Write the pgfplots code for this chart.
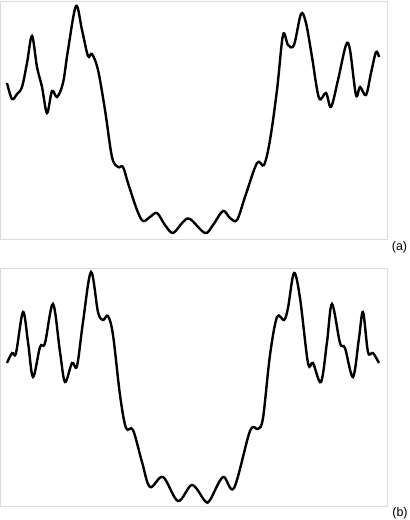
\documentclass[border=0pt]{standalone}
\usepackage{pgfplots}
\pgfplotsset{compat=1.18}
\usepackage{fontspec}
\setmainfont{Liberation Sans}

\pgfplotsset{
  panel/.style={
    scale only axis,
    width=387pt, height=238pt,
    xmin=0, xmax=387, ymin=0, ymax=238,
    xtick=\empty, ytick=\empty,
    axis line style={black!14, line width=0.9pt},
  },
  wave/.style={black, line width=2.4pt, smooth, tension=0.55, no marks},
}

\begin{document}
\begin{tikzpicture}
\path[use as bounding box] (0,0) rectangle (410pt,520pt);

% (a)
\begin{axis}[panel, at={(0pt,281pt)}, anchor=south west]
\addplot[wave] coordinates {
(7,156) (12,140) (17,145) (22,152) (27,176) (32,203) (37,172) (42,152)
(47,126) (52,148) (57,142) (63,156) (68,189) (76,233) (82,209) (88,183)
(92,185) (98,169) (105,129) (112,82) (118,72) (123,72) (128,56) (137,29)
(143,18) (150,22) (157,26) (165,14) (173,6) (183,17) (190,20) (205,6)
(213,14) (223,28) (230,21) (237,19) (245,42) (257,76) (264,74) (270,99)
(277,149) (283,204) (288,194) (294,194) (301,225) (306,216) (312,182)
(319,141) (326,146) (331,132) (338,159) (346,194) (350,189) (356,144)
(360,152) (366,144) (371,166) (376,187) (379,182)
};
\end{axis}

% (b)
\begin{axis}[panel, at={(0pt,14pt)}, anchor=south west]
\addplot[wave] coordinates {
(7,143) (12,153) (16,153) (23,194) (28,164) (33,129) (40,159) (45,163)
(53,202) (60,154) (65,124) (72,143) (77,140) (83,184) (91,234) (98,194)
(103,186) (108,190) (113,171) (120,111) (126,78) (133,76) (142,44)
(150,19) (163,29) (178,5) (192,21) (205,5) (210,6) (223,29) (234,18)
(250,75) (258,77) (263,88) (270,151) (277,189) (284,186) (288,198)
(294,233) (300,208) (308,143) (313,143) (321,124) (327,164) (332,202)
(340,163) (345,158) (353,129) (359,168) (363,194) (368,154) (373,153)
(379,143)
};
\end{axis}

\node[font=\fontsize{12.5}{14}\selectfont, anchor=center, inner sep=0pt] at (399.5pt,273pt) {(a)};
\node[font=\fontsize{12.5}{14}\selectfont, anchor=center, inner sep=0pt] at (400pt,7pt) {(b)};
\end{tikzpicture}
\end{document}
